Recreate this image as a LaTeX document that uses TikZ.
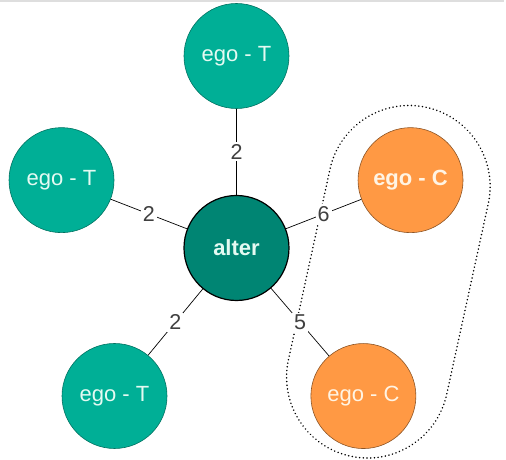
\documentclass[tikz,border=0pt]{standalone}
\usepackage{fontspec}
\setmainfont{Liberation Sans}
\usetikzlibrary{calc}
\definecolor{tealego}{RGB}{0,175,150}
\definecolor{tealalter}{RGB}{0,133,115}
\definecolor{orangeego}{RGB}{255,153,68}
\definecolor{mintwhite}{RGB}{228,250,242}
\definecolor{creamwhite}{RGB}{255,244,228}
\definecolor{weightgray}{RGB}{64,64,64}
\tikzset{
  person/.style={circle,minimum size=105pt,inner sep=0pt,line width=0.6pt,
    font=\fontsize{22}{26}\selectfont},
  egoT/.style={person,fill=tealego,draw=tealego!65!black,text=mintwhite},
  egoC/.style={person,fill=orangeego,draw=orangeego!55!black,text=creamwhite},
  altbox/.style={person,fill=tealalter,draw=black,line width=1.2pt,text=mintwhite,
    font=\fontsize{22}{26}\selectfont\bfseries},
  weight/.style={fill=white,text=weightgray,inner sep=2pt,
    font=\fontsize{21.5}{26}\selectfont},
  hull/.style={line width=1.6pt,dash pattern=on 0.1pt off 3.6pt,line cap=round},
}
\def\tie{\draw[line width=0.7pt]}

\begin{document}
\begin{tikzpicture}[x=1pt,y=1pt]
  \useasboundingbox (-236.5,-212) rectangle (269.5,248);
  \draw[line width=1.5pt,black!13] (-236.5,247) -- (267.5,247);

  \node[altbox] (alter) at (0,0) {alter};
  \node[egoT] (egoTtop)   at (90:192)      {ego - T};
  \node[egoT] (egoTleft)  at (158.8:187.7) {ego - T};
  \node[egoT] (egoTlow)   at (230.5:191.8) {ego - T};
  \node[egoC] (egoCtop)   at (21.3:186.8)  {\bfseries ego - C};
  \node[egoC] (egoClow)   at (-49.4:195)   {ego - C};

  % dotted hull round the two C egos
  \begin{scope}[shift={($(egoCtop)!0.5!(egoClow)$)},rotate=-12.3]
    \draw[hull] (-81,-91) -- (-81,104) arc[start angle=180,end angle=0,radius=81pt]
      -- (81,-91) arc[start angle=0,end angle=-180,radius=81pt] -- cycle;
  \end{scope}

  \tie (alter) -- node[weight] {2} (egoTtop);
  \tie (alter) -- node[weight] {2} (egoTleft);
  \tie (alter) -- node[weight] {2} (egoTlow);
  \tie (alter) -- node[weight] {6} (egoCtop);
  \tie (alter) -- node[weight] {5} (egoClow);
\end{tikzpicture}
\end{document}
